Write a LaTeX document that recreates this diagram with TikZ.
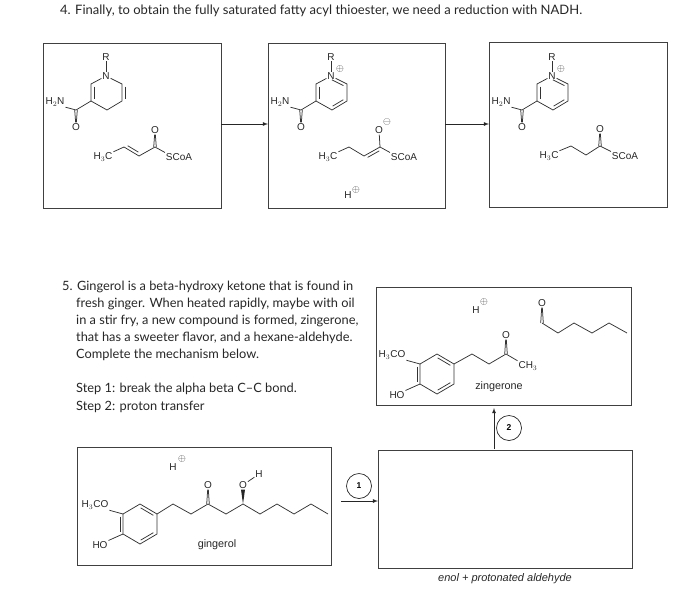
\documentclass[tikz,border=0pt]{standalone}
\usepackage{fontspec}
\usepackage{amsmath}
\setmainfont{Lato}
\newfontfamily\chemfont{Liberation Sans}
\usetikzlibrary{positioning,calc}

\tikzset{
  panel/.style={draw=black!75,line width=1pt},
  bond/.style={draw=black!80,line width=0.75pt},
  flow/.style={draw=black!85,line width=0.8pt,-latex},
  atom/.style={inner sep=0.8pt,font=\chemfont\fontsize{10}{10}\selectfont,text=black!85},
  caption/.style={inner sep=0pt,font=\chemfont\fontsize{10.8}{12}\selectfont,text=black!85},
  charge/.style={inner sep=0pt,font=\fontsize{10}{10}\selectfont,text=black!85},
  stepmark/.style={draw=black!85,circle,line width=0.7pt,minimum size=25pt,inner sep=0pt,font=\chemfont\bfseries\fontsize{8.5}{8.5}\selectfont},
  para/.style={inner sep=0pt,anchor=north west,align=left,font=\fontsize{12.8}{17}\selectfont,text=black!85}
}

% second line of a double bond, on the side given by the angle
\newcommand{\inbond}[3]{
  \draw[bond,shorten <=2.5pt,shorten >=2.5pt] ($(#1)!3pt!#3:(#2)$) -- ($(#2)!3pt!-#3:(#1)$);
}

% nicotinamide part, #1 = prefix, #2 = x shift
\newcommand{\amide}[2]{
  \begin{scope}[shift={(#2,0)}]
    \node[atom] (#1R) at (106,57) {R};
    \node[atom] (#1N) at (106,76) {N};
    \coordinate (#1a) at (91,84);
    \coordinate (#1b) at (91,101);
    \coordinate (#1c) at (107,110);
    \coordinate (#1d) at (122,101);
    \coordinate (#1e) at (122,84);
    \coordinate (#1f) at (76,110);
    \node[atom] (#1O) at (76,127) {O};
    \node[atom] (#1A) at (55,102) {H$_2$N};
    \draw[bond] (#1R) -- (#1N);
    \draw[bond] (#1N) -- (#1a) -- (#1b) -- (#1c) -- (#1d) -- (#1e) -- (#1N);
    \draw[bond] (#1b) -- (#1f) -- (#1A.south east);
    \draw[bond] ([xshift=-1.3pt]#1f) -- ([xshift=-1.3pt]#1O);
    \draw[bond] ([xshift=1.3pt]#1f) -- ([xshift=1.3pt]#1O);
    \inbond{#1a}{#1b}{90}
  \end{scope}
}

% methoxyphenol ring, #1 = prefix, #2 and #3 = centre
\newcommand{\phenol}[3]{
  \begin{scope}[shift={(#2,#3)}]
    \coordinate (#1a) at (0,-20);
    \coordinate (#1b) at (17,-10);
    \coordinate (#1c) at (17,10);
    \coordinate (#1d) at (0,20);
    \coordinate (#1e) at (-17,10);
    \coordinate (#1f) at (-17,-10);
    \node[atom] (#1M) at (-45,-19) {H$_3$CO};
    \node[atom] (#1H) at (-40,21) {HO};
    \draw[bond] (#1a) -- (#1b) -- (#1c) -- (#1d) -- (#1e) -- (#1f) -- cycle;
    \draw[bond] (#1f) -- (#1M.south east);
    \draw[bond] (#1e) -- (#1H.north east);
    \inbond{#1f}{#1e}{-90}
    \inbond{#1a}{#1b}{-90}
    \inbond{#1c}{#1d}{-90}
  \end{scope}
}

\begin{document}
\begin{tikzpicture}[x=1pt,y=-1pt]
  \useasboundingbox (0,0) rectangle (700,602);

  % Question 4
  \node[para,font=\fontsize{13}{17}\selectfont] (qfour) at (60,4.5) {4. Finally, to obtain the fully saturated fatty acyl thioester, we need a reduction with NADH.};

  % Panels of question 4
  \draw[panel] (43,44) rectangle (221,208);
  \coordinate (pa) at (221,124);
  \draw[panel] (268,44) rectangle (445,208);
  \coordinate (pbl) at (268,124);
  \coordinate (pbr) at (445,124);
  \draw[panel] (489,43) rectangle (667,207);
  \coordinate (pc) at (489,124);
  \draw[flow] (pa) -- (pbl);
  \draw[flow] (pbr) -- (pc);

  % First panel
  \amide{x}{0}
  \inbond{xe}{xd}{90}
  \node[atom] (xme) at (103,157) {H$_3$C};
  \coordinate (xu) at (124,147);
  \coordinate (xv) at (139,156);
  \coordinate (xw) at (155,147);
  \node[atom] (xo) at (155,130) {O};
  \node[atom] (xs) at (179,157) {SCoA};
  \draw[bond] (xme.north east) -- (xu) -- (xv) -- (xw) -- (xs.north west);
  \inbond{xu}{xv}{90}
  \draw[bond] ([xshift=-1.3pt]xw) -- ([xshift=-1.3pt]xo);
  \draw[bond] ([xshift=1.3pt]xw) -- ([xshift=1.3pt]xo);

  % Second panel
  \amide{y}{225}
  \inbond{yN}{ye}{-90}
  \inbond{yd}{yc}{-90}
  \node[charge] (yplus) at (340,69) {$\oplus$};
  \node[atom] (yme) at (328,157) {H$_3$C};
  \coordinate (yu) at (349,147);
  \coordinate (yv) at (364,156);
  \coordinate (yw) at (380,147);
  \node[atom] (yo) at (379,130) {O};
  \node[charge] (yminus) at (387,122) {$\ominus$};
  \node[atom] (ys) at (404,157) {SCoA};
  \draw[bond] (yme.north east) -- (yu) -- (yv) -- (yw) -- (ys.north west);
  \draw[bond] (yw) -- (yo);
  \inbond{yv}{yw}{-90}
  \node[atom] (yh) at (348,195) {H};
  \node[charge] (yhplus) at (356,190) {$\oplus$};

  % Third panel
  \amide{z}{446}
  \inbond{zN}{ze}{-90}
  \inbond{zd}{zc}{-90}
  \node[charge] (zplus) at (561,69) {$\oplus$};
  \node[atom] (zme) at (549,156) {H$_3$C};
  \coordinate (zu) at (571,146);
  \coordinate (zv) at (586,155);
  \coordinate (zw) at (600,146);
  \node[atom] (zo) at (600,129) {O};
  \node[atom] (zs) at (625,156) {SCoA};
  \draw[bond] (zme.north east) -- (zu) -- (zv) -- (zw) -- (zs.north west);
  \draw[bond] ([xshift=-1.3pt]zw) -- ([xshift=-1.3pt]zo);
  \draw[bond] ([xshift=1.3pt]zw) -- ([xshift=1.3pt]zo);

  % Question 5
  \node[para] (qfive) at (62,280.5) {5. Gingerol is a beta-hydroxy ketone that is found in\\
    \hspace*{14pt}fresh ginger. When heated rapidly, maybe with oil\\
    \hspace*{14pt}in a stir fry, a new compound is formed, zingerone,\\
    \hspace*{14pt}that has a sweeter flavor, and a hexane-aldehyde.\\
    \hspace*{14pt}Complete the mechanism below.};
  \node[para,font=\fontsize{12.8}{18}\selectfont] (qsteps) at (76,382.5) {Step 1: break the alpha beta C--C bond.\\Step 2: proton transfer};

  % Gingerol
  \draw[panel] (77,447) rectangle (331,565);
  \node[atom] (gh) at (173,467) {H};
  \node[charge] (ghplus) at (182,459) {$\oplus$};
  \phenol{g}{140}{524}
  \coordinate (g1) at (173,504);
  \coordinate (g2) at (191,514);
  \coordinate (g3) at (208,504);
  \node[atom] (goa) at (208,485) {O};
  \coordinate (g4) at (226,514);
  \coordinate (g5) at (243,504);
  \node[atom] (gob) at (243,485) {O};
  \node[atom] (ghb) at (259,474) {H};
  \coordinate (g6) at (260,514);
  \coordinate (g7) at (277,504);
  \coordinate (g8) at (294,514);
  \coordinate (g9) at (311,504);
  \coordinate (g10) at (328,514);
  \draw[bond] (gb) -- (g1) -- (g2) -- (g3) -- (g4) -- (g5) -- (g6) -- (g7) -- (g8) -- (g9) -- (g10);
  \draw[bond] ([xshift=-1.3pt]g3) -- ([xshift=-1.3pt]goa);
  \draw[bond] ([xshift=1.3pt]g3) -- ([xshift=1.3pt]goa);
  \draw[bond] (gob) -- (ghb);
  \fill[black!85] (g5) -- ([xshift=-2pt]gob.south) -- ([xshift=2pt]gob.south) -- cycle;
  \node[caption] (gname) at (217,545) {gingerol};

  % Step 1
  \node[stepmark] (stepa) at (359,486) {1};
  \coordinate (stepas) at (341,501);
  \coordinate (stepae) at (378,501);
  \draw[flow] (stepas) -- (stepae);

  % Empty panel
  \draw[panel] (378,450) rectangle (632,568);
  \node[caption,font=\chemfont\itshape\fontsize{11}{12}\selectfont] (enol) at (505,579) {enol + protonated aldehyde};

  % Step 2
  \coordinate (stepbs) at (494,449);
  \coordinate (stepbe) at (494,408);
  \draw[flow] (stepbs) -- (stepbe);
  \node[stepmark] (stepb) at (509,428) {2};

  % Zingerone and aldehyde
  \draw[panel] (376,287) rectangle (631,405);
  \node[atom] (zih) at (476,310) {H};
  \node[charge] (zihplus) at (484,302) {$\oplus$};
  \node[atom] (alo) at (542,303) {O};
  \coordinate (al1) at (542,323);
  \coordinate (al2) at (558,333);
  \coordinate (al3) at (574,323);
  \coordinate (al4) at (592,333);
  \coordinate (al5) at (609,323);
  \coordinate (al6) at (627,333);
  \draw[bond] (al1) -- (al2) -- (al3) -- (al4) -- (al5) -- (al6);
  \draw[bond] ([xshift=-1.3pt]al1) -- ([xshift=-1.3pt]alo);
  \draw[bond] ([xshift=1.3pt]al1) -- ([xshift=1.3pt]alo);
  \phenol{k}{437}{374}
  \coordinate (k1) at (472,354);
  \coordinate (k2) at (489,364);
  \coordinate (k3) at (506,354);
  \node[atom] (ko) at (506,335) {O};
  \node[atom] (kme) at (528,366) {CH$_3$};
  \draw[bond] (kb) -- (k1) -- (k2) -- (k3) -- (kme.north west);
  \draw[bond] ([xshift=-1.3pt]k3) -- ([xshift=-1.3pt]ko);
  \draw[bond] ([xshift=1.3pt]k3) -- ([xshift=1.3pt]ko);
  \node[caption] (kname) at (499,386.5) {zingerone};
\end{tikzpicture}
\end{document}
